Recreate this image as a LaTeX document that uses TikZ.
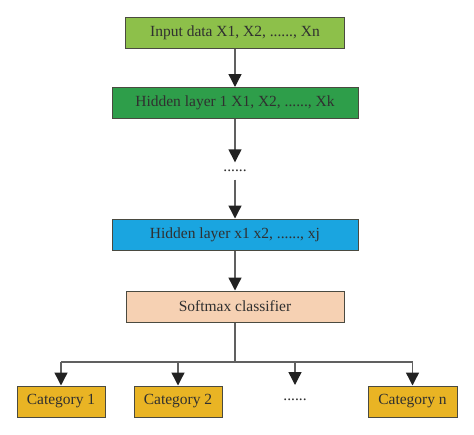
\documentclass[tikz,border=0pt]{standalone}
\usepackage{fontspec}
\setmainfont{Liberation Serif}
\usetikzlibrary{arrows.meta}
\definecolor{cinput}{HTML}{8DC04A}
\definecolor{chid}{HTML}{2E9E4A}
\definecolor{cblue}{HTML}{1AA5E0}
\definecolor{cpeach}{HTML}{F6D1B3}
\definecolor{cgold}{HTML}{E9B424}
\definecolor{cline}{HTML}{606060}
\definecolor{chead}{HTML}{222222}
\definecolor{ctext}{HTML}{303030}
\definecolor{cborder}{HTML}{4A4A40}
\begin{document}
\begin{tikzpicture}[x=1pt,y=-1pt,
  box/.style={draw=cborder,line width=1pt,minimum height=31pt,inner sep=0pt,
    text=ctext,font=\fontsize{15.5}{17}\selectfont},
  conn/.style={draw=cline,line width=1.4pt},
  arr/.style={conn,-{Triangle[width=13pt,length=13pt,color=chead]}},
  dots/.style={text=ctext,inner sep=0pt,font=\fontsize{15.5}{17}\selectfont}]
\useasboundingbox[fill=white] (0,0) rectangle (474,434);
\node[box,fill=cinput,minimum width=219pt] (in) at (235,32.5) {Input data X1, X2, ......, Xn};
\node[box,fill=chid,minimum width=246pt] (h1) at (235,103) {Hidden layer 1 X1, X2, ......, Xk};
\node[dots,minimum height=17pt] (d1) at (235,171) {......};
\node[box,fill=cblue,minimum width=246pt] (hx) at (235,234.5) {Hidden layer x1 x2, ......, xj};
\node[box,fill=cpeach,minimum width=218pt] (sm) at (235,306.5) {Softmax classifier};
\node[box,fill=cgold,minimum width=88pt] (c1) at (61,401.5) {Category 1};
\node[box,fill=cgold,minimum width=88pt] (c2) at (178,401.5) {Category 2};
\node[dots] (d2) at (295,400) {......};
\node[box,fill=cgold,minimum width=89pt] (cn) at (412.5,401.5) {Category n};
\coordinate (j) at (235,362);
\coordinate (m) at (295,385);
\draw[arr] (in) -- (h1);
\draw[arr] (h1) -- (d1);
\draw[arr] (d1) -- (hx);
\draw[arr] (hx) -- (sm);
\draw[conn] (sm.south) -- (j);
\draw[conn] (c1.north |- j) -- (cn.north |- j);
\draw[arr] (c1.north |- j) -- (c1.north);
\draw[arr] (c2.north |- j) -- (c2.north);
\draw[arr] (m |- j) -- (m);
\draw[arr] (cn.north |- j) -- (cn.north);
\end{tikzpicture}
\end{document}
